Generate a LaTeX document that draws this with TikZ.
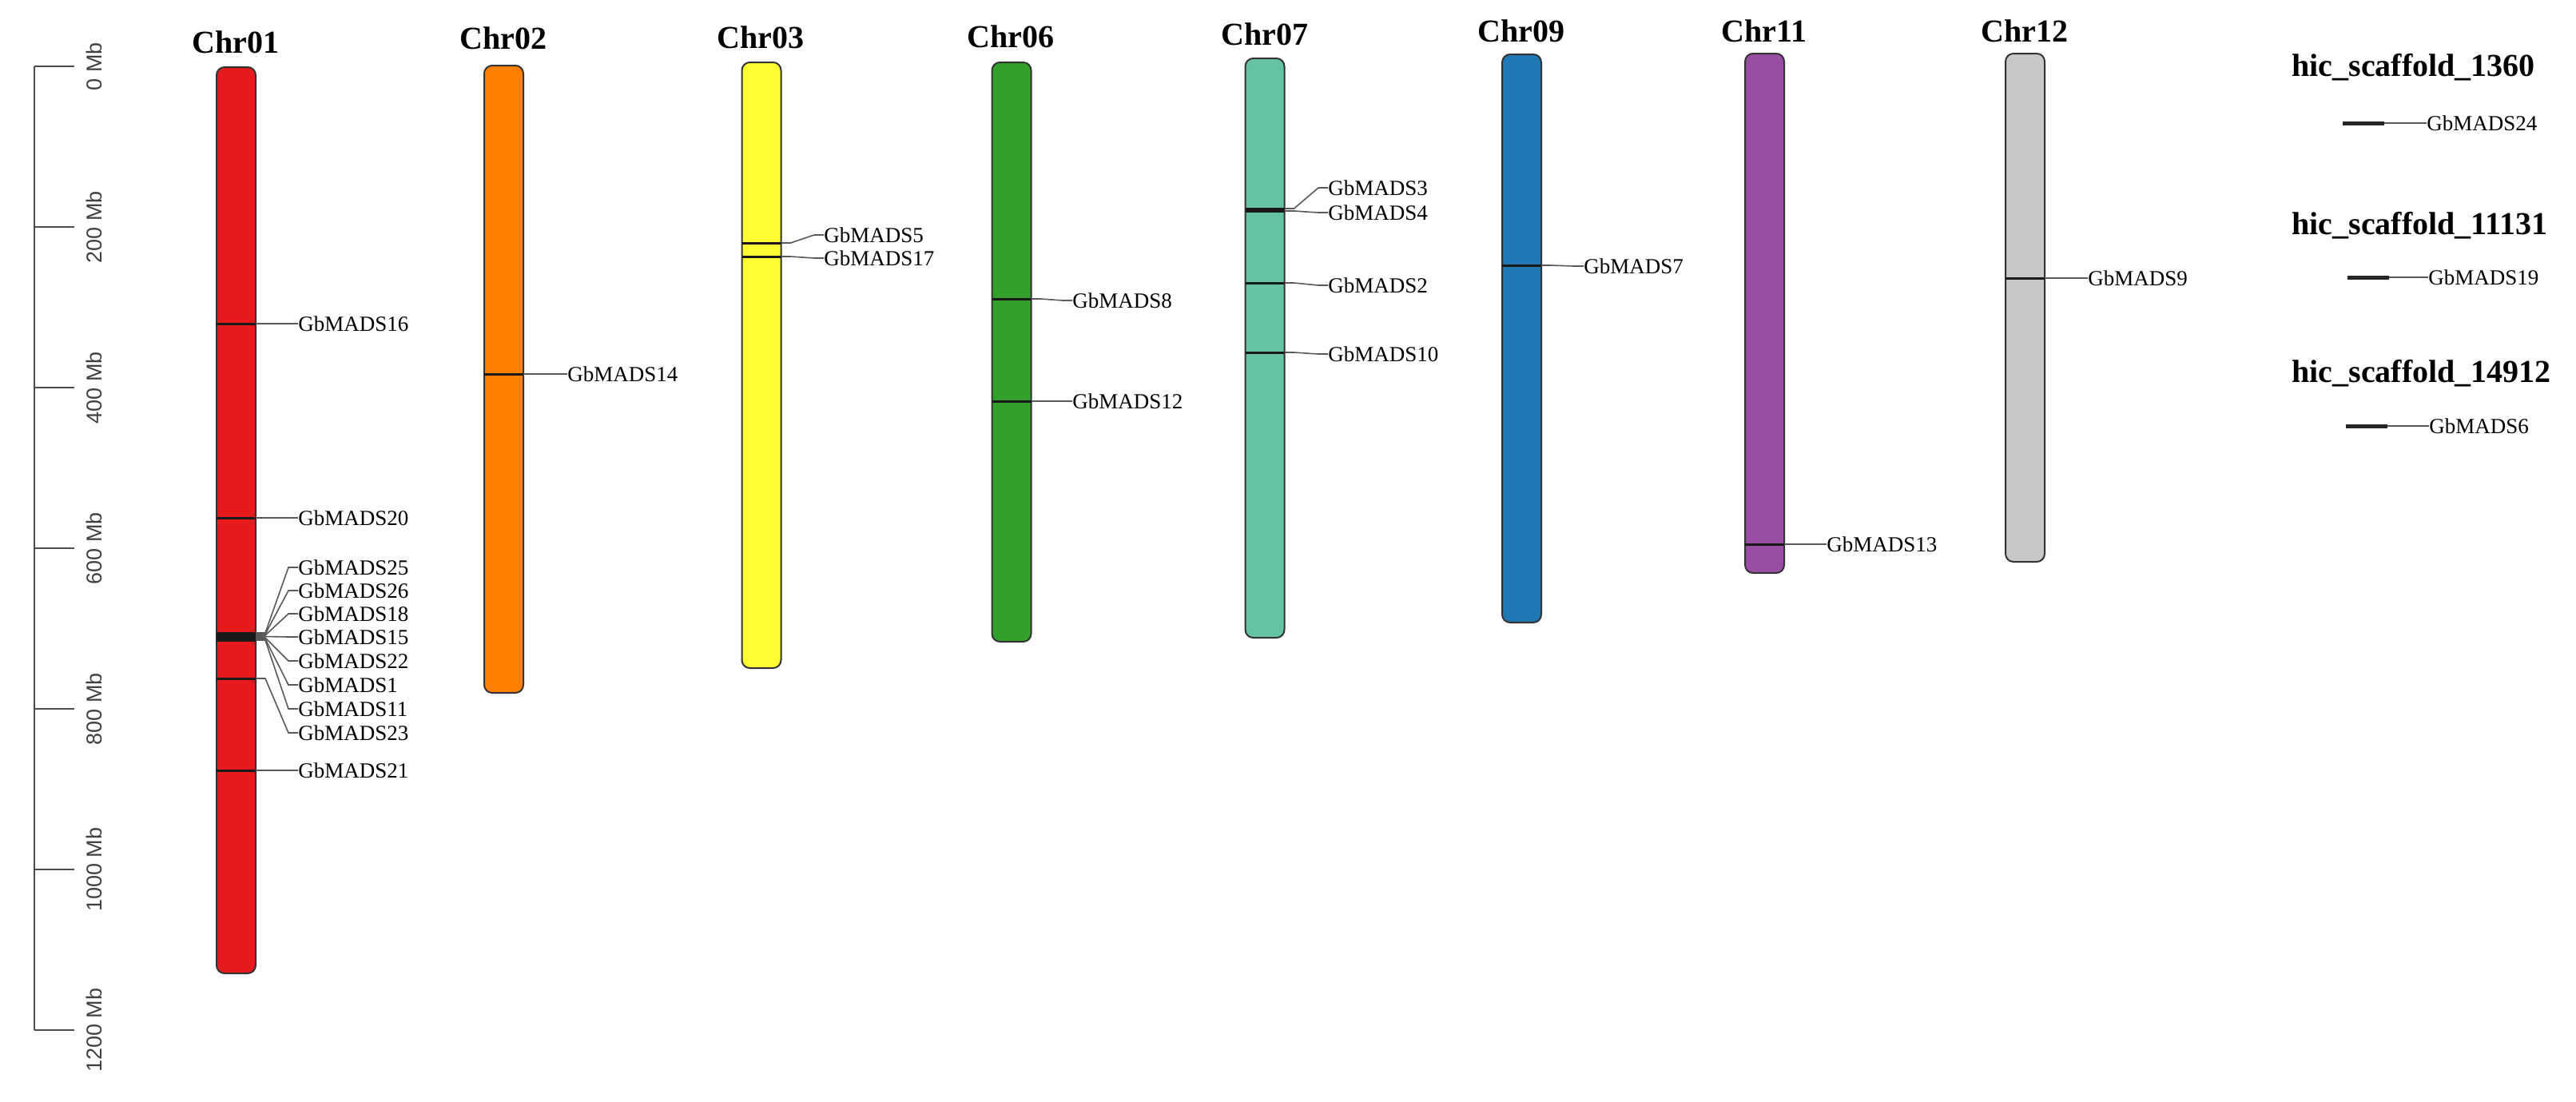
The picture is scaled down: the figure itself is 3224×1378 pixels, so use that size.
\documentclass[tikz,border=0pt]{standalone}
\usepackage{fontspec}
\setmainfont{Liberation Serif}
\setsansfont{Liberation Sans}
\usetikzlibrary{calc}
\definecolor{c01}{HTML}{E41A1C}
\definecolor{c02}{HTML}{FF7F00}
\definecolor{c03}{HTML}{FFFF33}
\definecolor{c06}{HTML}{33A02C}
\definecolor{c07}{HTML}{66C2A5}
\definecolor{c09}{HTML}{1F78B4}
\definecolor{c11}{HTML}{984EA3}
\definecolor{c12}{HTML}{C8C8C8}
\tikzset{
  chrom/.style={draw=black!80, line width=1pt, rounded corners=5pt, minimum width=24.5pt, inner sep=0pt, outer sep=0pt, anchor=north},
  chrtitle/.style={font=\fontsize{20}{24}\selectfont\bfseries, anchor=base, inner sep=0pt},
  scaftitle/.style={font=\fontsize{20}{24}\selectfont\bfseries, anchor=base west, inner sep=0pt},
  lab/.style={font=\fontsize{13.5}{16}\selectfont, anchor=west, inner sep=0pt},
  gene/.style={line width=1.5pt, draw=black!90},
  conn/.style={line width=0.8pt, draw=black!65},
  scalebar/.style={line width=1pt, draw=black!70},
  scalelab/.style={font=\sffamily\fontsize{13.5}{16}\selectfont, rotate=90, text=black!75, inner sep=0pt},
  scaf/.style={fill=black!85, minimum width=26pt, minimum height=2.5pt, inner sep=0pt, outer sep=0pt},
}
\newcommand\genemk[6]{%
  \coordinate (#3-g) at (0,#2);
  \node[lab] (#3) at (#4,#5) {#6};
  \draw[gene] (#1.west |- #3-g) -- (#1.east |- #3-g);
  \draw[conn] (#1.east |- #3-g) -- ++(12,0) -- ($(#3.west)+(-12,0)$) -- (#3.west);
}
\begin{document}
\begin{tikzpicture}[x=0.5pt, y=-0.5pt]
\useasboundingbox (0,0) rectangle (3224,1378);

% scale bar
\draw[scalebar] (43,83) -- (43,1289);
\foreach \k/\t in {0/0 Mb,1/200 Mb,2/400 Mb,3/600 Mb,4/800 Mb,5/1000 Mb,6/1200 Mb}{
  \draw[scalebar] (43,83+\k*201) -- (93,83+\k*201);
  \node[scalelab] (sl\k) at (118,83+\k*201) {\t};
}

% chromosomes
\node[chrom, fill=c01, minimum height=567pt] (chr01) at (295.5,84) {};
\node[chrom, fill=c02, minimum height=392.5pt] (chr02) at (630.5,82) {};
\node[chrom, fill=c03, minimum height=379pt] (chr03) at (953,78) {};
\node[chrom, fill=c06, minimum height=362.5pt] (chr06) at (1266,78) {};
\node[chrom, fill=c07, minimum height=362.5pt] (chr07) at (1583,73) {};
\node[chrom, fill=c09, minimum height=355.5pt] (chr09) at (1904.5,68) {};
\node[chrom, fill=c11, minimum height=325pt] (chr11) at (2208.5,67) {};
\node[chrom, fill=c12, minimum height=318pt] (chr12) at (2534.5,67) {};

% titles
\node[chrtitle] (t01) at (295,66) {Chr01};
\node[chrtitle] (t02) at (630,61) {Chr02};
\node[chrtitle] (t03) at (952,60) {Chr03};
\node[chrtitle] (t06) at (1265,59) {Chr06};
\node[chrtitle] (t07) at (1583,56) {Chr07};
\node[chrtitle] (t09) at (1904,52) {Chr09};
\node[chrtitle] (t11) at (2208,52) {Chr11};
\node[chrtitle] (t12) at (2534,52) {Chr12};

% genes
\genemk{chr01}{405}{g16}{373}{405}{GbMADS16}
\genemk{chr01}{648}{g20}{373}{648}{GbMADS20}
\genemk{chr01}{792}{g25}{373}{710}{GbMADS25}
\genemk{chr01}{793.5}{g26}{373}{739}{GbMADS26}
\genemk{chr01}{795}{g18}{373}{768}{GbMADS18}
\genemk{chr01}{796.5}{g15}{373}{797}{GbMADS15}
\genemk{chr01}{798}{g22}{373}{827}{GbMADS22}
\genemk{chr01}{799.5}{g1}{373}{857}{GbMADS1}
\genemk{chr01}{801}{g11}{373}{887}{GbMADS11}
\genemk{chr01}{849}{g23}{373}{917}{GbMADS23}
\genemk{chr01}{964}{g21}{373}{964}{GbMADS21}
\genemk{chr02}{468}{g14}{710}{468}{GbMADS14}
\genemk{chr03}{304}{g5}{1031}{294}{GbMADS5}
\genemk{chr03}{321}{g17}{1031}{323}{GbMADS17}
\genemk{chr06}{374}{g8}{1342}{376}{GbMADS8}
\genemk{chr06}{502}{g12}{1342}{502}{GbMADS12}
\genemk{chr07}{261}{g3}{1662}{235}{GbMADS3}
\genemk{chr07}{264}{g4}{1662}{266}{GbMADS4}
\genemk{chr07}{354}{g2}{1662}{357}{GbMADS2}
\genemk{chr07}{441}{g10}{1662}{443}{GbMADS10}
\genemk{chr09}{332}{g7}{1982}{333}{GbMADS7}
\genemk{chr11}{681}{g13}{2286}{681}{GbMADS13}
\genemk{chr12}{348}{g9}{2613}{348}{GbMADS9}

% scaffolds
\node[scaftitle] (st1) at (2868,95.5) {hic\_scaffold\_1360};
\node[scaftitle] (st2) at (2868,293.5) {hic\_scaffold\_11131};
\node[scaftitle] (st3) at (2868,478.5) {hic\_scaffold\_14912};
\node[scaf] (sc1) at (2958,154) {};
\node[scaf] (sc2) at (2964,347) {};
\node[scaf] (sc3) at (2962,533) {};
\node[lab] (g24) at (3037,154) {GbMADS24};
\node[lab] (g19) at (3039,347) {GbMADS19};
\node[lab] (g6) at (3040,533) {GbMADS6};
\draw[conn] (sc1.east) -- (g24.west);
\draw[conn] (sc2.east) -- (g19.west);
\draw[conn] (sc3.east) -- (g6.west);
\end{tikzpicture}
\end{document}
